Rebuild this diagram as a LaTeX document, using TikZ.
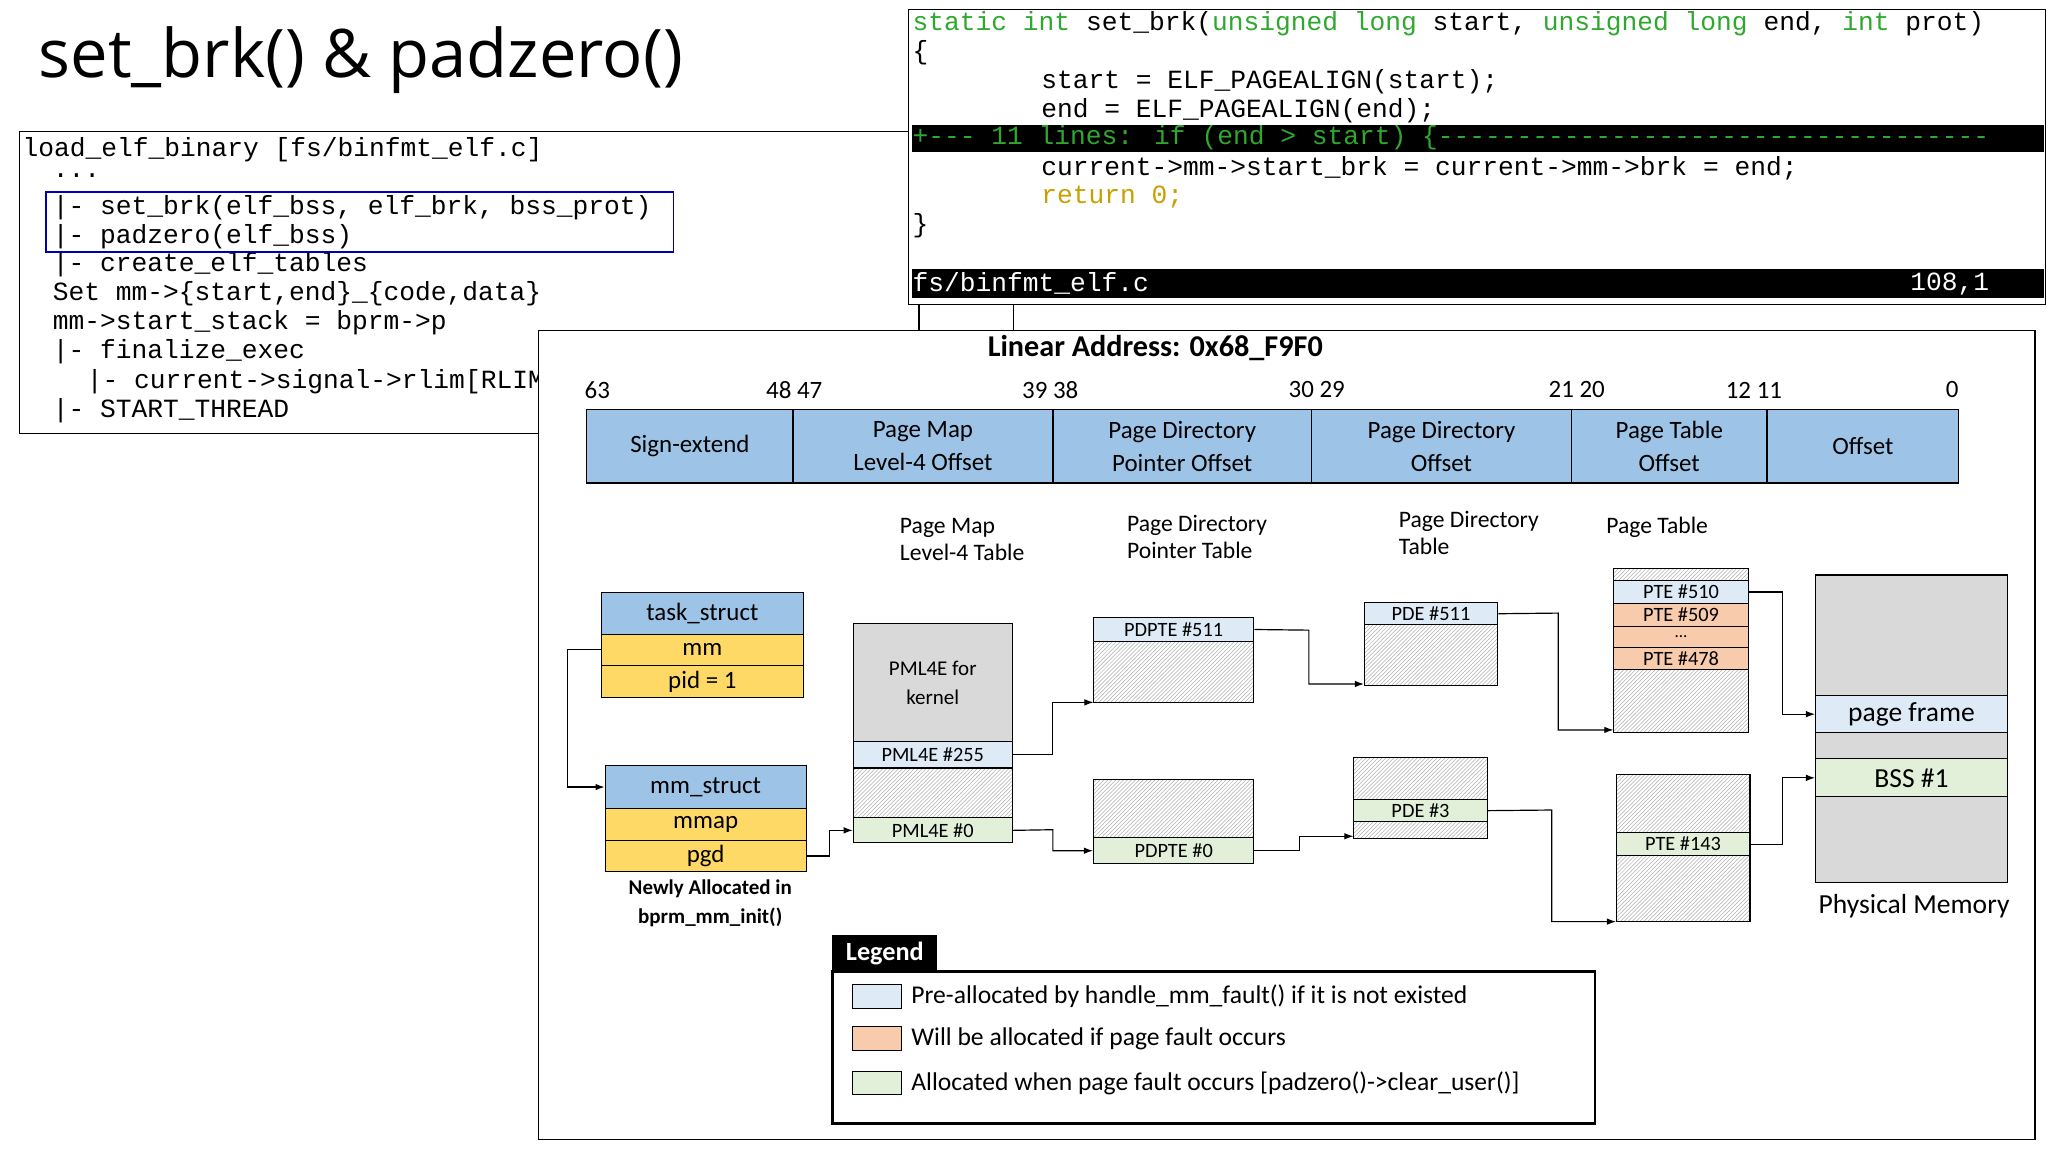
\documentclass[tikz,border=0pt]{standalone}
\usepackage{fontspec}
\setmainfont{Carlito}
\newfontfamily\codefont{Liberation Mono}
\newfontfamily\titlefont{Open Sans}
\usetikzlibrary{patterns,arrows.meta}
\definecolor{hdr}{HTML}{9DC3E6}
\definecolor{lblue}{HTML}{DEEBF7}
\definecolor{lor}{HTML}{F8CBAD}
\definecolor{lgr}{HTML}{E2F0D9}
\definecolor{yel}{HTML}{FFD966}
\definecolor{gry}{HTML}{D9D9D9}
\definecolor{kw}{HTML}{2EA82E}
\definecolor{ret}{HTML}{C8A000}
\begin{document}
\begin{tikzpicture}[x=1pt,y=-1pt,
  code/.style={anchor=west,inner sep=0,font=\codefont\fontsize{20}{22}\selectfont},
  lbl/.style={font=\fontsize{18}{21}\selectfont,align=center},
  cell/.style={draw,line width=0.8pt},
  hatch/.style={draw,line width=0.8pt,pattern=north east lines,pattern color=gray!60},
  ar/.style={-{Latex[length=7pt,width=5pt]},line width=0.9pt},
  tl/.style={font=\fontsize{15.5}{17}\selectfont,inner sep=0}]
\useasboundingbox (0,0) rectangle (1560,877);
\fill[white] (0,0) rectangle (1560,877);
% title
\node[anchor=west,font=\titlefont\fontsize{51}{56}\selectfont] (title) at (26,46) {set\_brk() \& padzero()};
% left code box
\draw[line width=1pt] (15,100) rectangle (700,330);
\node[code] (l1) at (17,114) {load\_elf\_binary [fs/binfmt\_elf.c]};
\node[code] (l2) at (40,134) {...};
\node[code] (l3) at (40,158) {|- set\_brk(elf\_bss, elf\_brk, bss\_prot)};
\node[code] (l4) at (40,180) {|- padzero(elf\_bss)};
\node[code] (l5) at (40,202) {|- create\_elf\_tables};
\node[code] (l6) at (40,224) {Set mm->\{start,end\}\_\{code,data\}};
\node[code] (l7) at (40,246) {mm->start\_stack = bprm->p};
\node[code] (l8) at (40,268) {|- finalize\_exec};
\node[code] (l9) at (66,291) {|- current->signal->rlim[RLIM};
\node[code] (l10) at (40,313) {|- START\_THREAD};
\draw[color=blue!70!black,line width=1.5pt] (35,146) rectangle (513,192);
% code window
\draw[line width=1pt,fill=white] (692,7) rectangle (1558,232);
\fill (695,95) rectangle (1557,116);
\fill (695,205) rectangle (1557,227);
\node[code] (c1) at (695,18) {\textcolor{kw}{static int} set\_brk(\textcolor{kw}{unsigned long} start, \textcolor{kw}{unsigned long} end, \textcolor{kw}{int} prot)};
\node[code] (c2) at (695,40) {\{};
\node[code] (c3) at (793,62) {start = ELF\_PAGEALIGN(start);};
\node[code] (c4) at (793,84) {end = ELF\_PAGEALIGN(end);};
\node[code,text=kw] (c5) at (695,105) {+--- 11 lines: if (end > start) \{-----------------------------------};
\node[code] (c6) at (793,128) {current->mm->start\_brk = current->mm->brk = end;};
\node[code,text=ret] (c7) at (793,150) {return 0;};
\node[code] (c8) at (695,172) {\}};
\node[code,text=white] (c9) at (695,216) {fs/binfmt\_elf.c};
\node[code,text=white] (c10) at (1455,216) {108,1};
\coordinate (cw) at (772,232);
% main panel
\draw[line width=1pt,fill=white] (410,252) rectangle (1550,868);
\coordinate (mp) at (772,252);
\draw[line width=0.8pt] (cw) -- (mp);
\node[font=\bfseries\fontsize{23}{26}\selectfont] (la) at (880,265) {Linear Address: 0x68\_F9F0};
\foreach \t/\x [count=\i] in {63/455,48 47/605,39 38/800,30 29/1003,21 20/1201,12 11/1336,0/1487}
  \node[font=\fontsize{19}{22}\selectfont,inner sep=0] (b\i) at (\x,297) {\t};
\foreach \a/\b/\t [count=\i] in {447/604/Sign-extend,604/802/Page Map\\Level-4 Offset,802/999/Page Directory\\Pointer Offset,999/1197/Page Directory\\Offset,1197/1346/Page Table\\Offset,1346/1492/Offset}
  \node[draw,line width=1pt,fill=hdr,minimum width={\b-\a},minimum height=56,inner sep=0,lbl,font=\fontsize{19}{25}\selectfont] (f\i) at ({(\a+\b)/2},340) {\t};
% table captions
\node[anchor=west,lbl,align=left] (t1) at (682,411) {Page Map\\Level-4 Table};
\node[anchor=west,lbl,align=left] (t2) at (855,409) {Page Directory\\Pointer Table};
\node[anchor=west,lbl,align=left] (t3) at (1062,406) {Page Directory\\Table};
\node[anchor=west,lbl] (t4) at (1220,402) {Page Table};
% task_struct
\node[cell,fill=hdr,minimum width=154,minimum height=32,inner sep=0,lbl,font=\fontsize{19}{22}\selectfont] (ts) at (535,467) {task\_struct};
\node[cell,fill=yel,minimum width=154,minimum height=24,inner sep=0,lbl,font=\fontsize{19}{22}\selectfont] (tmm) at (535,495) {mm};
\node[cell,fill=yel,minimum width=154,minimum height=24,inner sep=0,lbl,font=\fontsize{19}{22}\selectfont] (tpid) at (535,519) {pid = 1};
% mm_struct
\node[cell,fill=hdr,minimum width=153,minimum height=33,inner sep=0,lbl,font=\fontsize{19}{22}\selectfont] (ms) at (537.5,599.5) {mm\_struct};
\node[cell,fill=yel,minimum width=153,minimum height=24,inner sep=0,lbl,font=\fontsize{19}{22}\selectfont] (mmap) at (537.5,628) {mmap};
\node[cell,fill=yel,minimum width=153,minimum height=24,inner sep=0,lbl,font=\fontsize{19}{22}\selectfont] (pgd) at (537.5,652) {pgd};
\node[font=\bfseries\fontsize{16}{22}\selectfont,align=center] (na) at (541,688) {Newly Allocated in\\bprm\_mm\_init()};
\draw[ar] (tmm.west) -- (432,495) |- (ms.west);
% PML4
\node[cell,fill=gry,minimum width=121,minimum height=90,inner sep=0,lbl,font=\fontsize{16}{22}\selectfont] (pk) at (710.5,520) {PML4E for\\kernel};
\node[cell,fill=lblue,minimum width=121,minimum height=20,inner sep=0,tl] (p255) at (710.5,575) {PML4E \#255};
\draw[hatch] (650,585) rectangle (771,623);
\node[cell,fill=lgr,minimum width=121,minimum height=19,inner sep=0,tl] (p0) at (710.5,632.5) {PML4E \#0};
\draw[ar] (pgd.east) -- (632,652) |- (p0.west);
% PDPT
\node[cell,fill=lblue,minimum width=122,minimum height=19,inner sep=0,tl] (d511) at (894,479.5) {PDPTE \#511};
\draw[hatch] (833,489) rectangle (955,535);
\coordinate (d511b) at (833,535);
\draw[hatch] (833,594) rectangle (955,638);
\node[cell,fill=lgr,minimum width=122,minimum height=20,inner sep=0,tl] (d0) at (894,648) {PDPTE \#0};
\draw[ar] (p255.east) -- (802,575) |- (d511b);
\draw[ar] (p0.east) -- (802,632) |- (d0.west);
% PD
\node[cell,fill=lblue,minimum width=102,minimum height=17,inner sep=0,tl] (e511) at (1090,467.5) {PDE \#511};
\draw[hatch] (1039,476) rectangle (1141,522);
\coordinate (e511b) at (1039,521);
\draw[hatch] (1031,577) rectangle (1133,609);
\node[cell,fill=lgr,minimum width=102,minimum height=17,inner sep=0,tl] (e3) at (1082,617.5) {PDE \#3};
\draw[hatch] (1031,626) rectangle (1133,639);
\coordinate (e3in) at (1031,637);
\draw[ar] (d511.east) -- (997,480) |- (e511b);
\draw[ar] (d0.east) -- (990,648) |- (e3in);
% PT top
\draw[hatch] (1229,433) rectangle (1332,442);
\node[cell,fill=lblue,minimum width=103,minimum height=18,inner sep=0,tl] (q510) at (1280.5,451) {PTE \#510};
\node[cell,fill=lor,minimum width=103,minimum height=17,inner sep=0,tl] (q509) at (1280.5,468.5) {PTE \#509};
\node[cell,fill=lor,minimum width=103,minimum height=16,inner sep=0,font=\fontsize{13}{13}\selectfont] (qd) at (1280.5,485) {...};
\node[cell,fill=lor,minimum width=103,minimum height=17,inner sep=0,tl] (q478) at (1280.5,501.5) {PTE \#478};
\draw[hatch] (1229,510) rectangle (1332,558);
\coordinate (qtin) at (1229,556);
\draw[ar] (e511.east) -- (1187,467) |- (qtin);
% PT bottom
\draw[hatch] (1231,590) rectangle (1333,634);
\node[cell,fill=lgr,minimum width=102,minimum height=18,inner sep=0,tl] (q143) at (1282,643) {PTE \#143};
\draw[hatch] (1231,652) rectangle (1333,702);
\coordinate (qbin) at (1231,702);
\draw[ar] (e3.east) -- (1182,617) |- (qbin);
% physical memory
\draw[cell,fill=gry] (1383,438) rectangle (1529,672);
\node[cell,fill=lblue,minimum width=146,minimum height=28,inner sep=0,font=\fontsize{21}{24}\selectfont] (pf) at (1456,544) {page frame};
\node[cell,fill=lgr,minimum width=146,minimum height=29,inner sep=0,font=\fontsize{21}{24}\selectfont] (bss) at (1456,592.5) {BSS \#1};
\node[font=\fontsize{21}{24}\selectfont] (pm) at (1458,690) {Physical Memory};
\draw[ar] (q510.east) -- (1358,451) |- (pf.west);
\draw[ar] (q143.east) -- (1358,643) |- (bss.west);
% legend
\node[fill=black,text=white,font=\bfseries\fontsize{20}{22}\selectfont,minimum width=80,minimum height=28,inner sep=0] (lg) at (674,726) {Legend};
\draw[line width=2pt] (634,740) rectangle (1215,856);
\node[cell,fill=lblue,minimum width=38,minimum height=18,inner sep=0] (s1) at (668,759) {};
\node[cell,fill=lor,minimum width=38,minimum height=18,inner sep=0] (s2) at (668,791) {};
\node[cell,fill=lgr,minimum width=38,minimum height=18,inner sep=0] (s3) at (668,825) {};
\node[anchor=west,font=\fontsize{19.5}{22}\selectfont,inner sep=0] (g1) at (694,759) {Pre-allocated by handle\_mm\_fault() if it is not existed};
\node[anchor=west,font=\fontsize{19.5}{22}\selectfont,inner sep=0] (g2) at (694,791) {Will be allocated if page fault occurs};
\node[anchor=west,font=\fontsize{19.5}{22}\selectfont,inner sep=0] (g3) at (694,825) {Allocated when page fault occurs [padzero()->clear\_user()]};
\end{tikzpicture}
\end{document}
